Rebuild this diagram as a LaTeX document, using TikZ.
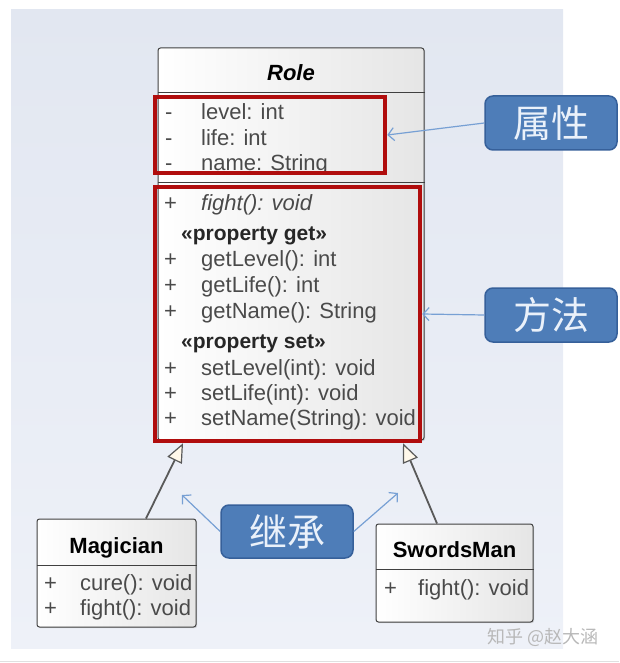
\documentclass[tikz,border=0pt]{standalone}
\usepackage{fontspec}
\setmainfont{Liberation Sans}
\newfontfamily\cjk{Noto Sans CJK SC}
\usetikzlibrary{arrows.meta,shadows}
\definecolor{panel}{HTML}{E2E7F1}
\definecolor{panellow}{HTML}{EEF1F8}
\definecolor{frame}{HTML}{B00D0D}
\definecolor{notefill}{HTML}{4E7DB8}
\definecolor{noteedge}{HTML}{36609A}
\definecolor{notetext}{HTML}{EAF1FA}
\definecolor{notelink}{HTML}{77A0D4}
\definecolor{member}{HTML}{4A4A4A}
\definecolor{tipfill}{HTML}{FFF8EA}
\newcommand\visib[2]{\makebox[#1][l]{#2}}

\begin{document}
\begin{tikzpicture}[x=1pt,y=-1pt,
  classbox/.style={draw=black!75,line width=1pt,rounded corners=2.5pt,
    left color=white,right color=black!10,inner sep=0pt,
    drop shadow={opacity=.25,shadow xshift=1.2pt,shadow yshift=-1.2pt}},
  divider/.style={draw=black!75,line width=1pt},
  classname/.style={anchor=base,inner sep=0pt,font=\fontsize{22}{22}\selectfont\bfseries},
  member/.style={anchor=base west,inner sep=0pt,text=member,font=\fontsize{22}{22}\selectfont},
  stereo/.style={anchor=base west,inner sep=0pt,text=black!85,font=\fontsize{21}{21}\selectfont\bfseries},
  redframe/.style={draw=frame,line width=4.5pt,inner sep=0pt},
  note/.style={draw=noteedge,line width=1.5pt,fill=notefill,rounded corners=8pt,
    minimum width=132pt,minimum height=54pt,text=notetext,
    font=\cjk\fontsize{38}{38}\selectfont},
  notearrow/.style={draw=notelink,line width=1.2pt,-{Straight Barb[length=6pt,width=13pt]}},
  inherit/.style={draw=black!65,line width=1.8pt,
    -{Triangle[length=19pt,width=16pt,fill=tipfill,line width=1.2pt]}}]
  % background
  \useasboundingbox (0,0) rectangle (619,663);
  \fill[top color=panel,bottom color=panellow] (11,10) rectangle (563,648);
  \draw[black!12,line width=1pt] (0,661) -- (619,661);
  % classes
  \node[classbox,minimum width=266pt,minimum height=392pt] (role) at (291,244) {};
  \draw[divider] (role.west |- 0,93) -- (role.east |- 0,93);
  \draw[divider] (role.west |- 0,182) -- (role.east |- 0,182);
  \node[classbox,minimum width=159pt,minimum height=108pt] (magician) at (116.5,573) {};
  \draw[divider] (magician.west |- 0,565) -- (magician.east |- 0,565);
  \node[classbox,minimum width=157pt,minimum height=98pt] (swordsman) at (454.5,573) {};
  \draw[divider] (swordsman.west |- 0,569) -- (swordsman.east |- 0,569);
  % labelling
  \node[classname,font=\fontsize{22}{22}\selectfont\bfseries\itshape] (roletitle) at (291,81) {Role};
  \node[member] (level) at (165,120) {\visib{36pt}{-}level: int};
  \node[member] (life) at (165,146) {\visib{36pt}{-}life: int};
  \node[member] (name) at (165,171) {\visib{36pt}{-}name: String};
  \node[member] (fight) at (164,210) {\visib{37pt}{+}\itshape fight(): void};
  \node[stereo] (propget) at (181,240) {«property get»};
  \node[member] (getlevel) at (164,266) {\visib{37pt}{+}getLevel(): int};
  \node[member] (getlife) at (164,292) {\visib{37pt}{+}getLife(): int};
  \node[member] (getname) at (164,318) {\visib{37pt}{+}getName(): String};
  \node[stereo] (propset) at (181,348) {«property set»};
  \node[member] (setlevel) at (164,375) {\visib{37pt}{+}setLevel(int): void};
  \node[member] (setlife) at (164,400) {\visib{37pt}{+}setLife(int): void};
  \node[member] (setname) at (164,425) {\visib{37pt}{+}setName(String): void};
  \node[classname] (magtitle) at (116.5,553) {Magician};
  \node[member] (cure) at (44,590) {\visib{36pt}{+}cure(): void};
  \node[member] (magfight) at (44,615) {\visib{36pt}{+}fight(): void};
  \node[classname] (swordtitle) at (454.5,557) {SwordsMan};
  \node[member] (swordfight) at (384,595) {\visib{34pt}{+}fight(): void};
  % marking
  \node[redframe,minimum width=230pt,minimum height=76pt] (attrframe) at (270,135) {};
  \node[redframe,minimum width=265pt,minimum height=254pt] (methframe) at (287.5,314) {};
  % inheritance
  \draw[inherit] ([xshift=29.5pt]magician.north) -- ([xshift=-104.5pt]methframe.south);
  \draw[inherit] ([xshift=-17.5pt]swordsman.north) -- ([xshift=115.5pt]methframe.south);
  % notes
  \node[note] (attrnote) at (551,123) {属性};
  \node[note] (methnote) at (551,315) {方法};
  \node[note,minimum height=53pt] (inhnote) at (287,531.5) {继承};
  \coordinate (inhleft) at (182,495);
  \coordinate (inhright) at (398,493);
  \draw[notearrow] (attrnote.west) -- (attrframe.east);
  \draw[notearrow] (methnote.west) -- (methframe.east);
  \draw[notearrow] (inhnote.west) -- (inhleft);
  \draw[notearrow] (inhnote.east) -- (inhright);
  % watermark
  \node[text=black!28,font=\cjk\fontsize{18}{18}\selectfont] (mark) at (543,637) {知乎 @赵大涵};
\end{tikzpicture}
\end{document}
